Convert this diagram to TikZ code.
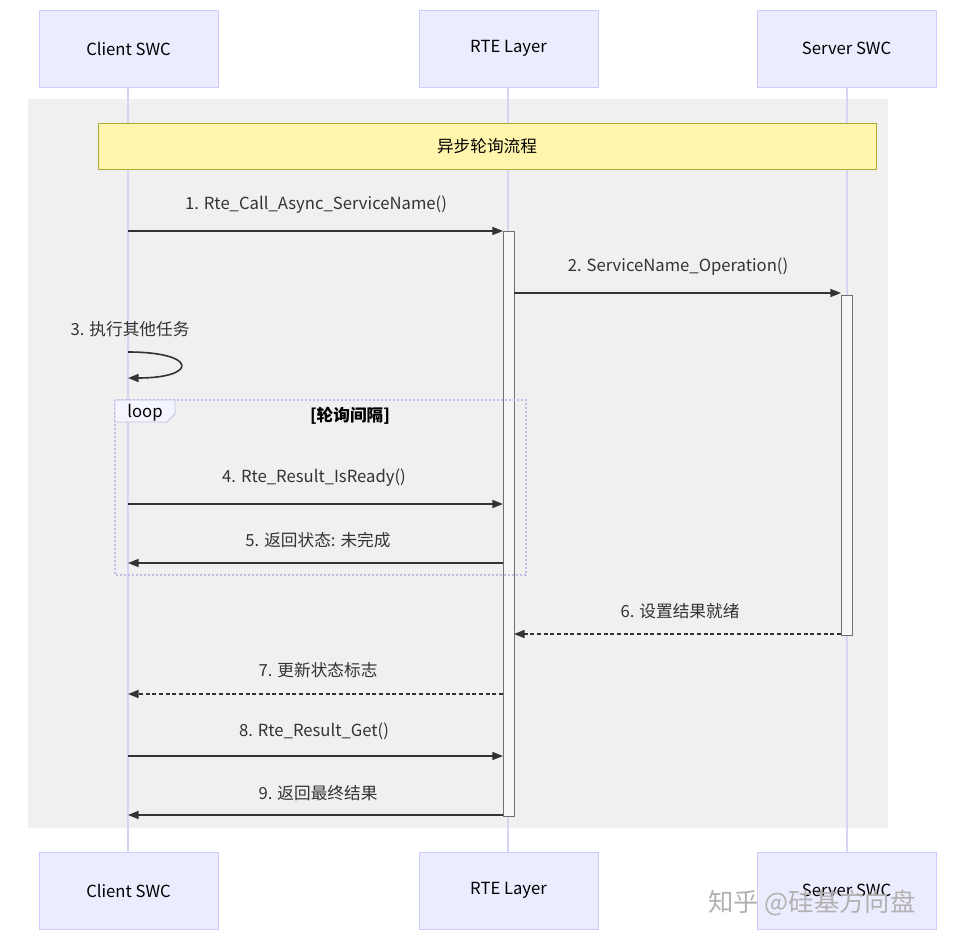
\documentclass[tikz,border=0pt]{standalone}
\usepackage{fontspec}
\setmainfont{Noto Sans CJK SC}
\usetikzlibrary{arrows.meta}
\definecolor{actfill}{HTML}{ECECFF}
\definecolor{actline}{HTML}{CCCCFF}
\definecolor{lifeline}{HTML}{D9D2F0}
\definecolor{bg}{HTML}{F0F0F0}
\definecolor{notefill}{HTML}{FFF5AD}
\definecolor{noteline}{HTML}{AAAA33}
\definecolor{ink}{HTML}{333333}
\begin{document}
\begin{tikzpicture}[x=0.75pt,y=-0.75pt,
  actor/.style={draw=actline,fill=actfill,minimum width=134.25pt,minimum height=57.75pt,inner sep=0pt,font=\fontsize{12.5}{14}\selectfont,text=black},
  msg/.style={draw=ink,line width=1.2pt,-{Triangle[length=8pt,width=6pt]}},
  dmsg/.style={msg,dash pattern=on 3pt off 2pt},
  lbl/.style={font=\fontsize{12.5}{14}\selectfont,text=ink,inner sep=0pt},
  act/.style={draw=ink!70,fill=bg!60,line width=0.6pt}]
\useasboundingbox (0,0) rectangle (953,942);
\fill[white] (0,0) rectangle (953,942);
\fill[bg] (28,99) rectangle (888,828);
% lifelines
\foreach \x in {128,508,847} \draw[lifeline,line width=1pt] (\x,87) -- (\x,852);
% actors
\node[actor] (c1) at (128.5,48.5) {Client SWC};
\node[actor] (r1) at (508.5,48.5) {RTE Layer};
\node[actor] (s1) at (846.5,48.5) {Server SWC};
\node[actor] (c2) at (128.5,890.5) {Client SWC};
\node[actor] (r2) at (508.5,890.5) {RTE Layer};
\node[actor] (s2) at (846.5,890.5) {Server SWC};
% note
\node[draw=noteline,fill=notefill,minimum width=583.5pt,minimum height=34.5pt,inner sep=0pt,lbl,text=black] (note) at (487,146) {异步轮询流程};
% activations
\draw[act] (503,231) rectangle (514,816);
\draw[act] (841,295) rectangle (852,635);
% coordinates
\coordinate (c231) at (128,231); \coordinate (r231) at (503,231);
\coordinate (r293) at (514,293); \coordinate (s293) at (841,293);
\coordinate (c504) at (128,504); \coordinate (r504) at (503,504);
\coordinate (c563) at (128,563); \coordinate (r563) at (503,563);
\coordinate (s634) at (841,634); \coordinate (r634) at (514,634);
\coordinate (c694) at (128,694); \coordinate (r694) at (503,694);
\coordinate (c756) at (128,756); \coordinate (r756) at (503,756);
\coordinate (c815) at (128,815); \coordinate (r815) at (503,815);
\coordinate (cs1) at (128,352); \coordinate (cs2) at (128,378);
\draw[msg] (c231) -- (r231);
\node[lbl] (l1) at (316,205) {1. Rte\_Call\_Async\_ServiceName()};
\draw[msg] (r293) -- (s293);
\node[lbl] (l2) at (678,267) {2. ServiceName\_Operation()};
\node[lbl] (l3) at (130,329) {3. 执行其他任务};
\draw[msg] (cs1) .. controls (198,352) and (198,378) .. (cs2);
% loop
\draw[draw=actline!80!gray,dash pattern=on 1.5pt off 1.5pt,line width=0.8pt] (115,400) rectangle (526,575);
\draw[draw=actline!80!gray,fill=actfill!50,line width=0.6pt] (115,400) -- (175,400) -- (175,414) -- (167,422) -- (115,422) -- cycle;
\node[lbl,text=black] (loop) at (145,413) {loop};
\node[lbl,text=black,font=\fontsize{12.5}{14}\selectfont\bfseries] (cond) at (350,416) {[轮询间隔]};
\draw[msg] (c504) -- (r504);
\node[lbl] (l4) at (314,478) {4. Rte\_Result\_IsReady()};
\draw[msg] (r563) -- (c563);
\node[lbl] (l5) at (318,540) {5. 返回状态: 未完成};
\draw[dmsg] (s634) -- (r634);
\node[lbl] (l6) at (680,611) {6. 设置结果就绪};
\draw[dmsg] (r694) -- (c694);
\node[lbl] (l7) at (318,670) {7. 更新状态标志};
\draw[msg] (c756) -- (r756);
\node[lbl] (l8) at (314,731) {8. Rte\_Result\_Get()};
\draw[msg] (r815) -- (c815);
\node[lbl] (l9) at (318,793) {9. 返回最终结果};
\node[lbl,text=gray!60,font=\fontsize{19}{22}\selectfont] (wm) at (812,903) {知乎 @硅基方向盘};
\end{tikzpicture}
\end{document}
